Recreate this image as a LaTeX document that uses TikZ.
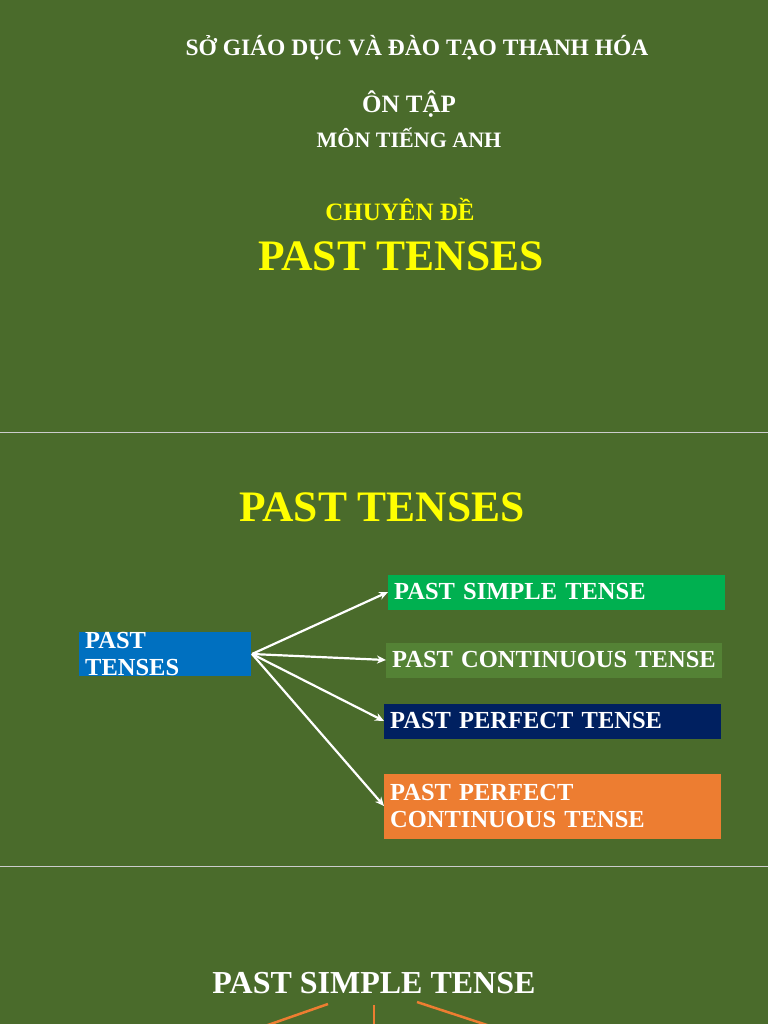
\documentclass[tikz,border=0pt]{standalone}
\usepackage{fontspec}
\usetikzlibrary{arrows.meta}
\setmainfont{Liberation Serif}
\definecolor{bg}{HTML}{4A6B2B}
\definecolor{yel}{HTML}{FFFF00}
\definecolor{bblue}{HTML}{0070C0}
\definecolor{bgreen}{HTML}{00B050}
\definecolor{bcont}{HTML}{548235}
\definecolor{bnavy}{HTML}{002060}
\definecolor{borange}{HTML}{ED7D31}
\begin{document}
\begin{tikzpicture}[x=1pt,y=-1pt,
  txt/.style={font=\bfseries, text=white, inner sep=0pt},
  box/.style={font=\bfseries\fontsize{24.5}{27}\selectfont, text=white, anchor=west, inner xsep=6pt, inner ysep=0pt, align=left},
  arr/.style={white, line width=2.2pt, -{Stealth[length=9pt,width=8pt]}},
  org/.style={draw=borange, line width=2.5pt}]
\fill[bg] (0,0) rectangle (768,1024);
\useasboundingbox (0,0) rectangle (768,1024);
\draw[gray!40, line width=0.8pt] (0,432) -- (768,432);
\draw[gray!40, line width=0.8pt] (0,866) -- (768,866);
% slide 1
\node[txt, font=\bfseries\fontsize{23.5}{26}\selectfont] (t1) at (417,48) {SỞ GIÁO DỤC VÀ ĐÀO TẠO THANH HÓA};
\node[txt, font=\bfseries\fontsize{25}{28}\selectfont] (t2) at (409,104) {ÔN TẬP};
\node[txt, font=\bfseries\fontsize{22}{25}\selectfont] (t3) at (409,138) {MÔN TIẾNG ANH};
\node[txt, text=yel, font=\bfseries\fontsize{25}{28}\selectfont] (t4) at (400,209) {CHUYÊN ĐỀ};
\node[txt, text=yel, font=\bfseries\fontsize{43.5}{50}\selectfont] (t5) at (401,256) {PAST TENSES};
% slide 2
\node[txt, text=yel, font=\bfseries\fontsize{43.5}{50}\selectfont] (h2) at (382,507) {PAST TENSES};
\node[box, fill=bblue, text width=160pt, minimum height=35pt] (pt) at (79,654) {PAST TENSES};
\node[box, fill=bgreen, text width=325pt, minimum height=35pt] (b1) at (388,592) {PAST SIMPLE TENSE};
\node[box, fill=bcont, text width=324pt, minimum height=35pt] (b2) at (386,660) {PAST CONTINUOUS TENSE};
\node[box, fill=bnavy, text width=325pt, minimum height=35pt] (b3) at (384,721) {PAST PERFECT TENSE};
\node[box, fill=borange, text width=325pt, minimum height=65pt] (b4) at (384,806) {PAST PERFECT\\CONTINUOUS TENSE};
\coordinate (o) at (252,654);
\draw[arr] (o) -- (b1.west);
\draw[arr] (o) -- (b2.west);
\draw[arr] (o) -- (b3.west);
\draw[arr] (o) -- (b4.west);
% slide 3
\node[txt, font=\bfseries\fontsize{32}{36}\selectfont] (h3) at (374,983) {PAST SIMPLE TENSE};
\coordinate (l1) at (265,1026);
\coordinate (l2) at (374,1026);
\coordinate (l3) at (490,1026);
\draw[org] (328,1004) -- (l1);
\draw[org] (374,1005) -- (l2);
\draw[org] (417,1002) -- (l3);
\end{tikzpicture}
\end{document}
